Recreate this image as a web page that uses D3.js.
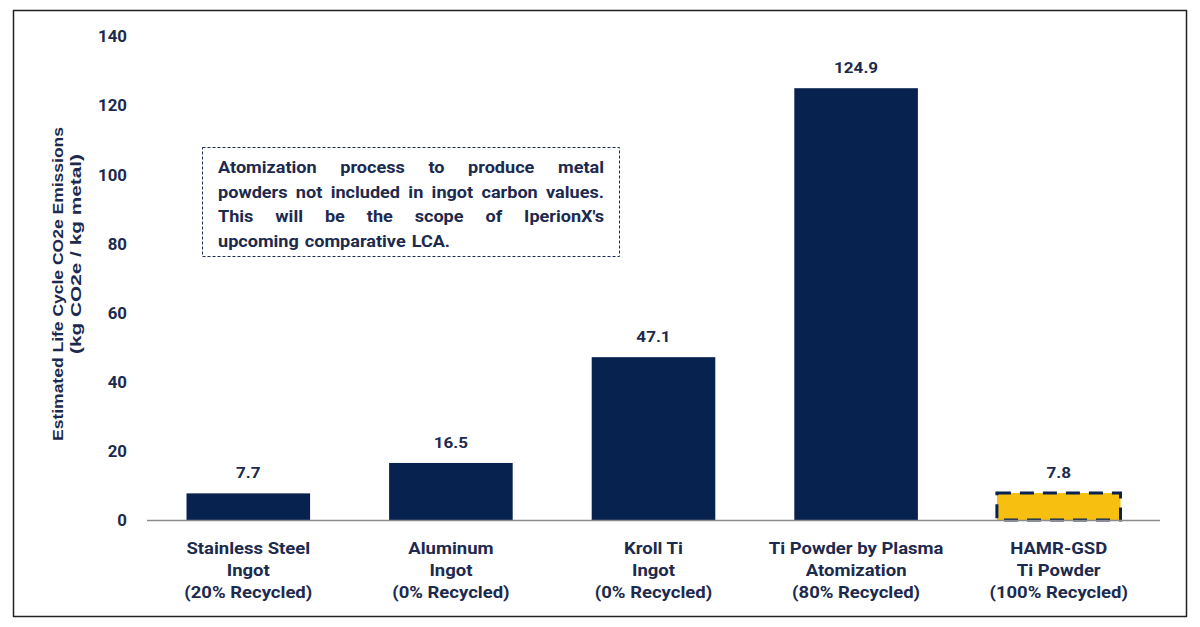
<!DOCTYPE html>
<html>
<head>
<meta charset="utf-8">
<title>Life cycle CO2e</title>
<script src="https://d3js.org/d3.v7.min.js"></script>
<style>
  body { margin: 0; background: #fff; }
  text { font-family: Roboto, "Liberation Sans", sans-serif; font-weight: bold; fill: #1c2a4e; }
</style>
</head>
<body>
<div id="chart"></div>
<script>
// chart data
var categories = [
  ["Stainless Steel", "Ingot", "(20% Recycled)"],
  ["Aluminum", "Ingot", "(0% Recycled)"],
  ["Kroll Ti", "Ingot", "(0% Recycled)"],
  ["Ti Powder by Plasma", "Atomization", "(80% Recycled)"],
  ["HAMR-GSD", "Ti Powder", "(100% Recycled)"]
];
var values = [7.7, 16.5, 47.1, 124.9, 7.8];
var yTicks = [0, 20, 40, 60, 80, 100, 120, 140];
var noteLines = [
  "Atomization process to produce metal",
  "powders not included in ingot carbon values.",
  "This will be the scope of IperionX's",
  "upcoming comparative LCA."
];

var W = 1200, H = 627;
var svg = d3.select("#chart").append("svg")
  .attr("width", W).attr("height", H);

// the source text is a bit wider than plain Roboto, stretch it a little
function widen(sel, f) {
  sel.each(function() {
    var w = this.getComputedTextLength();
    d3.select(this).attr("textLength", w * f).attr("lengthAdjust", "spacingAndGlyphs");
  });
}

// outer frame
svg.append("rect")
  .attr("x", 13.5).attr("y", 10.5)
  .attr("width", 1173).attr("height", 606)
  .attr("fill", "none").attr("stroke", "#222").attr("stroke-width", 1.5);

var x = d3.scaleBand()
  .domain(d3.range(categories.length))
  .range([147, 1160])
  .paddingInner(0.39).paddingOuter(0.195);

var y = d3.scaleLinear()
  .domain([0, 140])
  .range([520, 36]);

// y axis labels
var yAxis = svg.append("g")
  .attr("transform", "translate(127,0)")
  .call(d3.axisLeft(y).tickValues(yTicks).tickSize(0).tickPadding(0));
yAxis.select(".domain").remove();
yAxis.selectAll("text")
  .style("font-size", "16px")
  .attr("fill", "#1c2a4e")
  .attr("dy", "0.36em");
widen(yAxis.selectAll("text"), 1.05);

// axis title
var title = svg.append("text")
  .attr("transform", "rotate(-90)")
  .attr("text-anchor", "middle")
  .style("font-family", "'Liberation Sans', Arial, sans-serif")
  .style("font-size", "14px");
title.append("tspan").attr("x", -284).attr("y", 63)
  .attr("textLength", 314).attr("lengthAdjust", "spacingAndGlyphs")
  .text("Estimated Life Cycle CO2e Emissions");
title.append("tspan").attr("x", -254).attr("y", 81)
  .attr("textLength", 200).attr("lengthAdjust", "spacingAndGlyphs")
  .text("(kg CO2e / kg metal)");

// bars
var navy = "#08224f";
svg.selectAll("rect.bar")
  .data(values)
  .enter().append("rect")
  .attr("class", "bar")
  .attr("x", function(d, i) { return x(i); })
  .attr("y", function(d) { return y(d); })
  .attr("width", x.bandwidth())
  .attr("height", function(d) { return y(0) - y(d); })
  .attr("fill", function(d, i) { return i === 4 ? "#f7c010" : navy; })
  .attr("stroke", function(d, i) { return i === 4 ? navy : "none"; })
  .attr("stroke-width", 3)
  .attr("stroke-dasharray", "14,9");

// baseline
svg.append("line")
  .attr("x1", 147).attr("x2", 1160)
  .attr("y1", y(0) + 0.5).attr("y2", y(0) + 0.5)
  .attr("stroke", "#8c8c8c").attr("stroke-width", 1.5);

// value labels
var vals = svg.selectAll("text.val")
  .data(values)
  .enter().append("text")
  .attr("class", "val")
  .attr("x", function(d, i) { return x(i) + x.bandwidth() / 2; })
  .attr("y", function(d) { return y(d) - 15; })
  .attr("text-anchor", "middle")
  .style("font-size", "15.5px")
  .text(function(d) { return d.toFixed(1); });
widen(vals, 1.1);

// category labels
var cat = svg.selectAll("text.cat")
  .data(categories)
  .enter().append("text")
  .attr("class", "cat")
  .attr("text-anchor", "middle")
  .style("font-size", "16.5px");
cat.each(function(lines, i) {
  var t = d3.select(this);
  lines.forEach(function(s, k) {
    t.append("tspan")
      .attr("x", x(i) + x.bandwidth() / 2)
      .attr("y", 554 + k * 22)
      .text(s);
  });
});
widen(cat.selectAll("tspan"), 1.12);

// annotation box
svg.append("rect")
  .attr("x", 202.5).attr("y", 147.5)
  .attr("width", 417).attr("height", 109)
  .attr("fill", "none").attr("stroke", "#1c2a4e")
  .attr("stroke-width", 1).attr("stroke-dasharray", "3,2");

var left = 218, right = 604;
noteLines.forEach(function(line, k) {
  var words = line.split(" ");
  var baseY = 173 + k * 24.5;
  var g = svg.append("g");
  var nodes = words.map(function(w) {
    return g.append("text").attr("y", baseY).style("font-size", "16px").text(w);
  });
  var widths = nodes.map(function(n) {
    var w = n.node().getComputedTextLength() * 1.13;
    n.attr("textLength", w).attr("lengthAdjust", "spacingAndGlyphs");
    return w;
  });
  var total = d3.sum(widths);
  var justify = k < noteLines.length - 1;
  var gap = justify ? (right - left - total) / (words.length - 1) : 6;
  var cx = left;
  nodes.forEach(function(n, j) {
    n.attr("x", cx);
    cx += widths[j] + gap;
  });
});
</script>
</body>
</html>
